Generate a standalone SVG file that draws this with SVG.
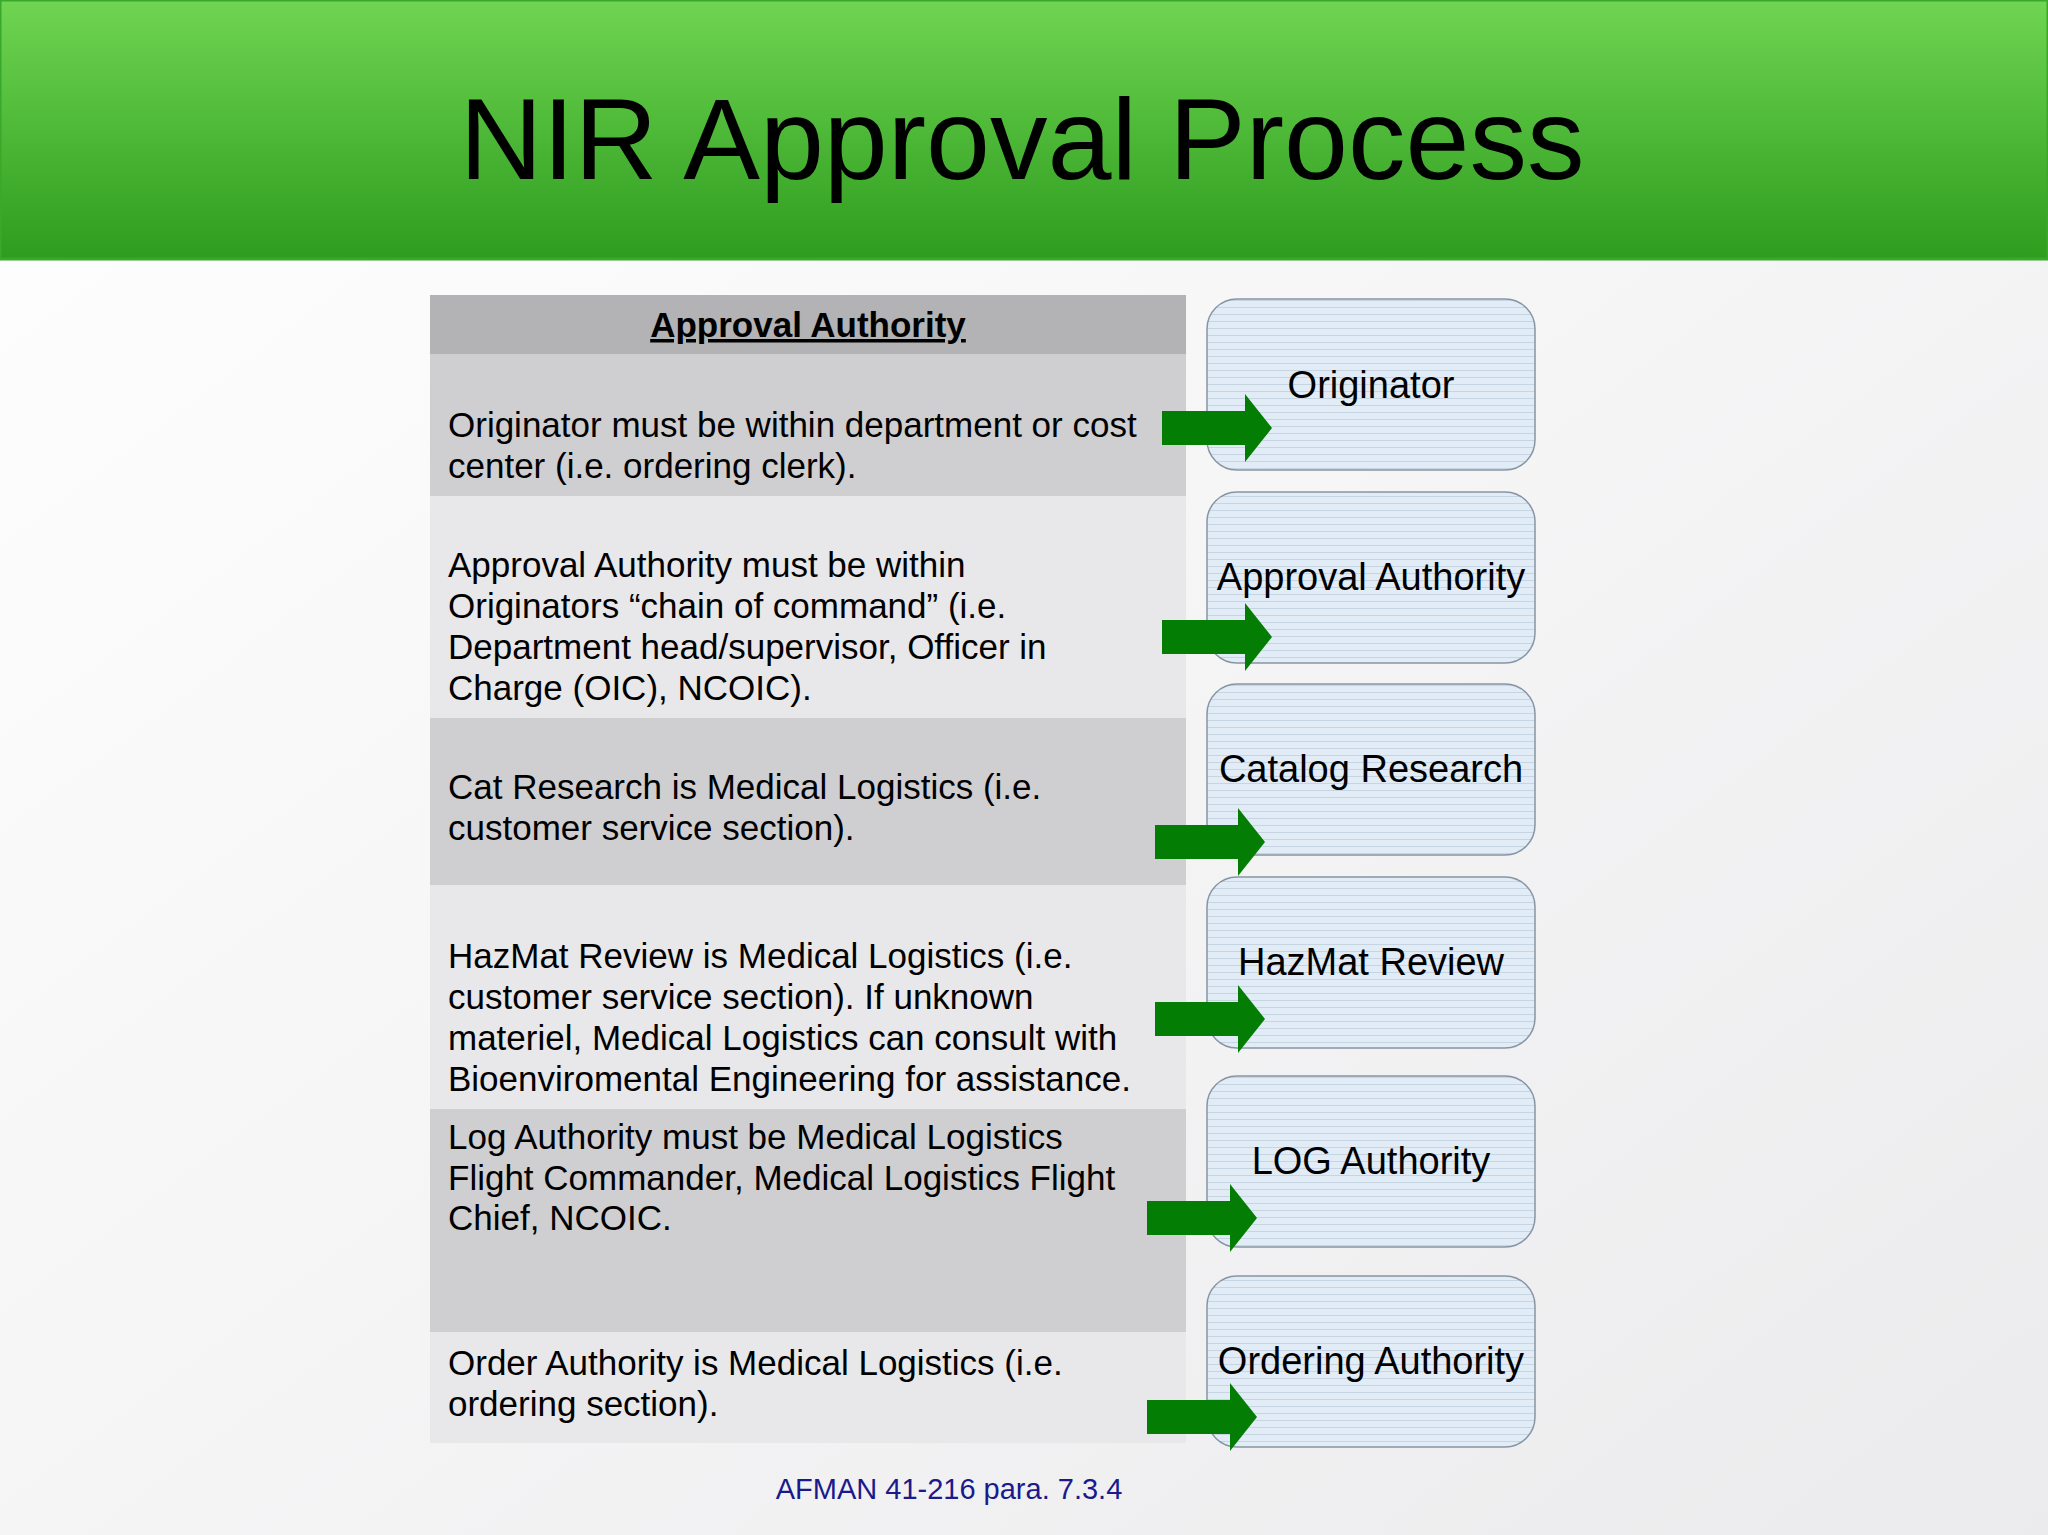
<svg xmlns="http://www.w3.org/2000/svg" width="2048" height="1535" viewBox="0 0 2048 1535">
<defs>
<linearGradient id="bg" x1="0" y1="0" x2="1" y2="1"><stop offset="0" stop-color="#ffffff"/><stop offset="1" stop-color="#ebebed"/></linearGradient>
<linearGradient id="hd" x1="0" y1="0" x2="0" y2="1"><stop offset="0" stop-color="#6fd552"/><stop offset="1" stop-color="#2e9c1e"/></linearGradient>
<pattern id="st" width="10" height="7" patternUnits="userSpaceOnUse"><rect width="10" height="7" fill="#e1ecf7"/><rect y="6" width="10" height="1" fill="#c7d5e3"/></pattern>
<style>
.box{fill:url(#st);stroke:#8795a3;stroke-width:1.5}
.lbl{font-family:"Liberation Sans",Arial,sans-serif;font-size:38px;fill:#000;text-anchor:middle}
.tx{font-family:"Liberation Sans",Arial,sans-serif;font-size:35px;fill:#000}
.arr{fill:#037d03}
.dk{fill:#cfced0}.lt{fill:#e8e7e9}
</style>
</defs>
<rect width="2048" height="1535" fill="url(#bg)"/>
<rect x="0" y="0" width="2048" height="259" fill="url(#hd)" stroke="#3aa82a" stroke-width="3"/>
<text x="1022" y="179" font-family="Liberation Sans,Arial,sans-serif" font-size="115" text-anchor="middle" fill="#000">NIR Approval Process</text>
<g id="table">
<rect x="430" y="295" width="756" height="59" fill="#b3b2b4"/>
<text x="808" y="337" font-family="Liberation Sans,Arial,sans-serif" font-size="35" font-weight="bold" text-anchor="middle" text-decoration="underline">Approval Authority</text>
<rect x="430" y="354" width="756" height="142" class="dk"/>
<rect x="430" y="496" width="756" height="222" class="lt"/>
<rect x="430" y="718" width="756" height="167" class="dk"/>
<rect x="430" y="885" width="756" height="224" class="lt"/>
<rect x="430" y="1109" width="756" height="223" class="dk"/>
<rect x="430" y="1332" width="756" height="111" class="lt"/>
<text class="tx"><tspan x="448" y="437">Originator must be within department or cost</tspan><tspan x="448" y="478">center (i.e. ordering clerk).</tspan></text>
<text class="tx"><tspan x="448" y="577">Approval Authority must be within</tspan><tspan x="448" y="618">Originators “chain of command” (i.e.</tspan><tspan x="448" y="659">Department head/supervisor, Officer in</tspan><tspan x="448" y="700">Charge (OIC), NCOIC).</tspan></text>
<text class="tx"><tspan x="448" y="799">Cat Research is Medical Logistics (i.e.</tspan><tspan x="448" y="840">customer service section).</tspan></text>
<text class="tx"><tspan x="448" y="968">HazMat Review is Medical Logistics (i.e.</tspan><tspan x="448" y="1009">customer service section). If unknown</tspan><tspan x="448" y="1050">materiel, Medical Logistics can consult with</tspan><tspan x="448" y="1091">Bioenviromental Engineering for assistance.</tspan></text>
<text class="tx"><tspan x="448" y="1149">Log Authority must be Medical Logistics</tspan><tspan x="448" y="1190">Flight Commander, Medical Logistics Flight</tspan><tspan x="448" y="1230">Chief, NCOIC.</tspan></text>
<text class="tx"><tspan x="448" y="1375">Order Authority is Medical Logistics (i.e.</tspan><tspan x="448" y="1416">ordering section).</tspan></text>
</g>
<g id="n1"><rect class="box" x="1207" y="299" width="328" height="171" rx="30"/><text class="lbl" x="1371" y="398">Originator</text></g>
<g id="n2"><rect class="box" x="1207" y="492" width="328" height="171" rx="30"/><text class="lbl" x="1371" y="590">Approval Authority</text></g>
<g id="n3"><rect class="box" x="1207" y="684" width="328" height="171" rx="30"/><text class="lbl" x="1371" y="782">Catalog Research</text></g>
<g id="n4"><rect class="box" x="1207" y="877" width="328" height="171" rx="30"/><text class="lbl" x="1371" y="975">HazMat Review</text></g>
<g id="n5"><rect class="box" x="1207" y="1076" width="328" height="171" rx="30"/><text class="lbl" x="1371" y="1174">LOG Authority</text></g>
<g id="n6"><rect class="box" x="1207" y="1276" width="328" height="171" rx="30"/><text class="lbl" x="1371" y="1374">Ordering Authority</text></g>
<g id="connectors">
<path class="arr" d="M1162 411H1245V394L1272 428L1245 462V445H1162Z"/>
<path class="arr" d="M1162 620H1245V603L1272 637L1245 671V654H1162Z"/>
<path class="arr" d="M1155 825H1238V808L1265 842L1238 876V859H1155Z"/>
<path class="arr" d="M1155 1002H1238V985L1265 1019L1238 1053V1036H1155Z"/>
<path class="arr" d="M1147 1201H1230V1184L1257 1218L1230 1252V1235H1147Z"/>
<path class="arr" d="M1147 1400H1230V1383L1257 1417L1230 1451V1434H1147Z"/>
</g>
<text x="949" y="1499" font-family="Liberation Sans,Arial,sans-serif" font-size="29" text-anchor="middle" fill="#1a1a8c">AFMAN 41-216 para. 7.3.4</text>
</svg>
